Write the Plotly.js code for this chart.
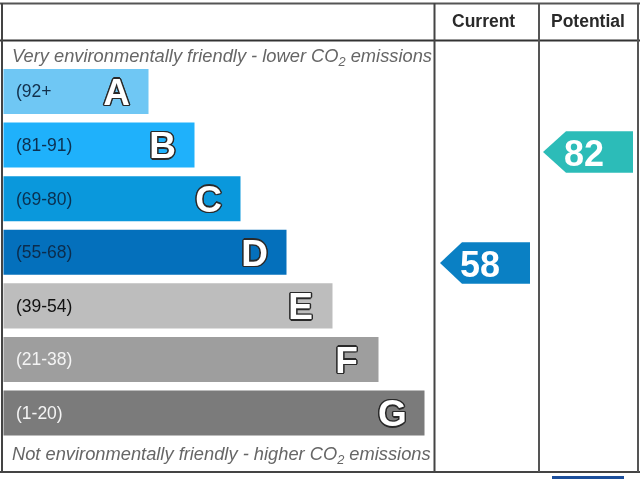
<!DOCTYPE html>
<html><head><meta charset="utf-8">
<script src="https://cdn.plot.ly/plotly-3.0.1.min.js"></script>
<style>html,body{margin:0;padding:0;background:#fff;overflow:hidden}#c{width:640px;height:479px;filter:blur(0.7px)}</style>
</head><body><div id="c"></div>
<script>
const bands = ['A','B','C','D','E','F','G'];
const ranges = ['(92+','(81-91)','(69-80)','(55-68)','(39-54)','(21-38)','(1-20)'];
const barLengths = [145,191,237,283,329,375,421];
const barColors = ['#6fc7f4','#1fb1fb','#0a98dc','#0470bc','#bdbdbd','#9e9e9e','#7b7b7b'];
const rangeColors = ['#12304c','#0c3050','#0a3050','#0c2c4c','#111111','#f4f4f4','#f4f4f4'];
const columns = ['Current','Potential'];
const scores = [58,82];
const scoreColors = ['#0a80c4','#2cbcb8'];
const topNote = 'Very environmentally friendly - lower CO<sub>2</sub> emissions';
const bottomNote = 'Not environmentally friendly - higher CO<sub>2</sub> emissions';

const W = 640, H = 479;
const base = 3.5;
const ends = barLengths.map(v => v + base);
const ink = '#3a3a3a';
const outline = ['-1px -1px 0 #2a2a2a','1px -1px 0 #2a2a2a','-1px 1px 0 #2a2a2a','1px 1px 0 #2a2a2a','0 1.5px 0 #2a2a2a','1.5px 0 0 #2a2a2a','-1.5px 0 0 #2a2a2a','0 -1.5px 0 #2a2a2a'].join(',');

const traces = [];
traces.push({type:'bar',orientation:'h',y:bands,x:barLengths,base:base,width:0.84,
  marker:{color:barColors,line:{width:0}},hoverinfo:'skip',xaxis:'x',yaxis:'y'});
traces.push({type:'scatter',mode:'text',x:bands.map(()=>16),y:bands,text:ranges,textposition:'middle right',
  textfont:{family:'Liberation Sans',size:17.5,color:rangeColors},hoverinfo:'skip',xaxis:'x',yaxis:'y4',cliponaxis:false});
traces.push({type:'scatter',mode:'text',x:ends.map(v=>v-32),y:bands,text:bands,textposition:'middle center',
  textfont:{family:'Liberation Sans',size:37,weight:700,color:'#ffffff',shadow:outline},hoverinfo:'skip',xaxis:'x',yaxis:'y3',cliponaxis:false});

// score arrows, placed vertically by the score scale on the second y axis
const arrowRight = [530,633], arrowTip = [440,543], arrowNeck = [462,566], textX = [480,584];
const halfH = 4.5;
scores.forEach((s,i)=>{
  traces.push({type:'scatter',mode:'lines',fill:'toself',fillcolor:scoreColors[i],line:{width:0,color:scoreColors[i]},
    x:[arrowTip[i],arrowNeck[i],arrowRight[i],arrowRight[i],arrowNeck[i],arrowTip[i]],
    y:[s,s+halfH,s+halfH,s-halfH,s-halfH,s],hoverinfo:'skip',xaxis:'x',yaxis:'y2'});
  traces.push({type:'scatter',mode:'text',x:[textX[i]],y:[s],text:[String(s)],textposition:'middle center',
    textfont:{family:'Liberation Sans',size:36,weight:700,color:'#ffffff'},hoverinfo:'skip',xaxis:'x',yaxis:'y5',cliponaxis:false});
});

const vline = (x,y0,y1,c,w)=>({type:'line',xref:'x',yref:'paper',x0:x,x1:x,y0:1-y0/H,y1:1-y1/H,line:{color:c||ink,width:w||2},layer:'above'});
const hline = (y,c,w)=>({type:'line',xref:'paper',yref:'paper',x0:0,x1:1,y0:1-y/H,y1:1-y/H,line:{color:c||ink,width:w||2},layer:'above'});

const catAxis = (shift)=>({type:'category',categoryorder:'array',categoryarray:bands,range:[7.23-shift,-1.707-shift],visible:false,fixedrange:true});
const layout = {
  width:W,height:H,margin:{l:0,r:0,t:0,b:0,pad:0},showlegend:false,
  paper_bgcolor:'#ffffff',plot_bgcolor:'#ffffff',barmode:'overlay',
  xaxis:{range:[0,W],visible:false,fixedrange:true},
  yaxis:catAxis(0),
  yaxis3:Object.assign(catAxis(0.075),{overlaying:'y'}),
  yaxis4:Object.assign(catAxis(0.03),{overlaying:'y'}),
  yaxis2:{overlaying:'y',range:[11.3,114.86],visible:false,fixedrange:true},
  yaxis5:{overlaying:'y',range:[12.3,115.86],visible:false,fixedrange:true},
  shapes:[
    hline(3.5,'#555',2),hline(40.5,'#333',2),hline(472,'#444',2),
    vline(2,3,472,'#444',2),vline(434.5,3,472,'#444',2),vline(539,3,472,'#555',2),vline(638,3,472,'#555',2),
    {type:'rect',xref:'x',yref:'paper',x0:552,x1:624,y0:0,y1:1-476/H,fillcolor:'#1c4f9c',line:{width:0},layer:'above'}
  ],
  annotations:[
    {xref:'x',yref:'paper',x:483,y:1-21/H,yanchor:'middle',text:columns[0],showarrow:false,font:{family:'Liberation Sans',size:17.5,weight:700,color:'#2a2a2a'}},
    {xref:'x',yref:'paper',x:588,y:1-21/H,yanchor:'middle',text:columns[1],showarrow:false,font:{family:'Liberation Sans',size:17.5,weight:700,color:'#2a2a2a'}},
    {xref:'x',yref:'paper',x:10,y:1-57/H,yanchor:'middle',xanchor:'left',text:'<i>'+topNote+'</i>',showarrow:false,font:{family:'Liberation Sans',size:18.3,color:'#666666'}},
    {xref:'x',yref:'paper',x:10,y:1-455/H,yanchor:'middle',xanchor:'left',text:'<i>'+bottomNote+'</i>',showarrow:false,font:{family:'Liberation Sans',size:18.3,color:'#666666'}}
  ]
};
Plotly.newPlot('c',traces,layout,{displayModeBar:false,staticPlot:true});
</script></body></html>
